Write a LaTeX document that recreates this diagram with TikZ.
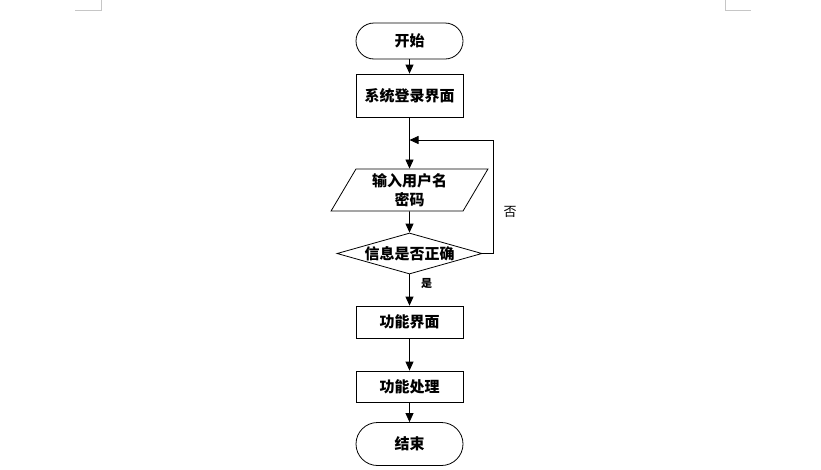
\documentclass[tikz,border=0pt]{standalone}
\usepackage{fontspec}
\newfontfamily\cjk{Noto Sans CJK SC}
\usetikzlibrary{shapes.geometric,arrows.meta}

\tikzset{
    base/.style={draw, line width=0.8pt, inner sep=0pt, font=\cjk\bfseries\fontsize{15}{19}\selectfont, align=center},
    term/.style={base, rectangle, minimum width=107pt},
    procbox/.style={base, rectangle, minimum width=107pt},
    iobox/.style={base, trapezium, trapezium left angle=62.4, trapezium right angle=117.6, trapezium stretches=true, minimum width=157pt, minimum height=42pt},
    decide/.style={base, diamond, aspect=3.5, minimum width=145pt, minimum height=41pt},
    arr/.style={line width=0.8pt, -{Triangle[length=9pt,width=8pt]}},
    lbl/.style={font=\cjk\fontsize{12}{14}\selectfont}
}

\begin{document}
\begin{tikzpicture}[x=1pt, y=-1pt]
        \useasboundingbox (0,0) rectangle (821,469);

        %PAGE CORNERS
        \draw[gray!45, line width=0.6pt] (75,10) -- (101,10) -- (101,0);
        \draw[gray!45, line width=0.6pt] (725,0) -- (725,10) -- (751,10);

        %NODES
        \node[term, minimum height=36pt, rounded corners=18pt] (start) at (409.5,41) {开始};
        \node[procbox, minimum height=43pt] (login) at (409.5,95.5) {系统登录界面};
        \node[iobox] (input) at (409.5,190) {输入用户名\\密码};
        \node[decide] (check) at (409.5,253.5) {信息是否正确};
        \node[procbox, minimum height=32pt] (func) at (409.5,322) {功能界面};
        \node[procbox, minimum height=31pt] (proc) at (409.5,386.5) {功能处理};
        \node[term, minimum height=43pt, rounded corners=21.5pt] (end) at (409.5,444) {结束};

        \coordinate (join) at (409.5,140);
        \coordinate (loop) at (493,140);

        %ARROWS
        \draw[arr] (start) -- (login);
        \draw[arr] (login) -- (input);
        \draw[arr] (input) -- (check);
        \draw[arr] (check) -- (func) node[pos=0.3, right=8pt, lbl, font=\cjk\bfseries\fontsize{11}{13}\selectfont] (yes) {是};
        \draw[arr] (func) -- (proc);
        \draw[arr] (proc) -- (end);
        \draw[arr] (check.east) -| (loop) -- (join);

        %LABEL
        \node[lbl, font=\cjk\fontsize{13}{15}\selectfont] (no) at (510,212) {否};
    \end{tikzpicture}
\end{document}
